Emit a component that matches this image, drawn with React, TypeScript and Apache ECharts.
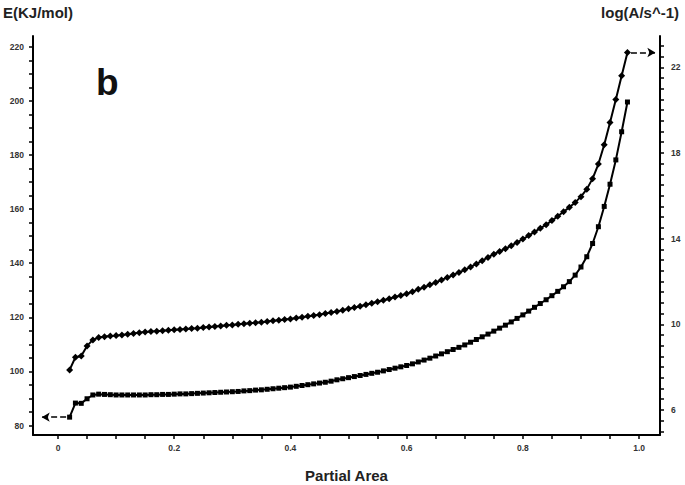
import React, { useEffect, useRef } from "react";
import * as echarts from "echarts";

// Partial area (x)
const partialArea = [
  0.02, 0.03, 0.04, 0.05, 0.06, 0.07, 0.08, 0.09, 0.10, 0.11,
  0.12, 0.13, 0.14, 0.15, 0.16, 0.17, 0.18, 0.19, 0.20, 0.21,
  0.22, 0.23, 0.24, 0.25, 0.26, 0.27, 0.28, 0.29, 0.30, 0.31,
  0.32, 0.33, 0.34, 0.35, 0.36, 0.37, 0.38, 0.39, 0.40, 0.41,
  0.42, 0.43, 0.44, 0.45, 0.46, 0.47, 0.48, 0.49, 0.50, 0.51,
  0.52, 0.53, 0.54, 0.55, 0.56, 0.57, 0.58, 0.59, 0.60, 0.61,
  0.62, 0.63, 0.64, 0.65, 0.66, 0.67, 0.68, 0.69, 0.70, 0.71,
  0.72, 0.73, 0.74, 0.75, 0.76, 0.77, 0.78, 0.79, 0.80, 0.81,
  0.82, 0.83, 0.84, 0.85, 0.86, 0.87, 0.88, 0.89, 0.90, 0.91,
  0.92, 0.93, 0.94, 0.95, 0.96, 0.97, 0.98,
];

// Activation energy E (KJ/mol), left axis, square markers
const energy = [
  83.1, 88.3, 88.2, 89.9, 91.3, 91.6, 91.5, 91.4, 91.3, 91.3,
  91.3, 91.3, 91.3, 91.3, 91.4, 91.4, 91.5, 91.5, 91.6, 91.7,
  91.7, 91.8, 91.9, 92.0, 92.1, 92.2, 92.3, 92.4, 92.5, 92.6,
  92.8, 92.9, 93.1, 93.2, 93.4, 93.6, 93.8, 94.0, 94.2, 94.5,
  94.8, 95.1, 95.4, 95.7, 96.0, 96.4, 96.9, 97.3, 97.7, 98.1,
  98.5, 98.9, 99.3, 99.7, 100.2, 100.7, 101.2, 101.7, 102.2, 102.8,
  103.5, 104.2, 104.9, 105.7, 106.5, 107.3, 108.1, 108.9, 109.8, 110.8,
  111.8, 112.8, 113.8, 114.9, 116.0, 117.1, 118.3, 119.6, 120.9, 122.3,
  123.7, 125.1, 126.5, 128.0, 129.6, 131.3, 133.2, 135.6, 138.6, 142.4,
  147.3, 153.5, 161.0, 169.2, 178.2, 188.6, 199.6,
];

// log(A/s^-1), right axis, diamond markers
const logA = [
  7.87, 8.46, 8.52, 8.99, 9.27, 9.38, 9.42, 9.45, 9.47, 9.50,
  9.54, 9.57, 9.61, 9.64, 9.66, 9.68, 9.70, 9.72, 9.74, 9.76,
  9.78, 9.80, 9.82, 9.85, 9.87, 9.90, 9.92, 9.95, 9.97, 10.00,
  10.02, 10.05, 10.07, 10.10, 10.13, 10.16, 10.19, 10.22, 10.25, 10.29,
  10.33, 10.37, 10.41, 10.45, 10.50, 10.55, 10.60, 10.66, 10.72, 10.78,
  10.84, 10.91, 10.98, 11.05, 11.12, 11.19, 11.27, 11.34, 11.42, 11.52,
  11.63, 11.73, 11.84, 11.95, 12.07, 12.18, 12.30, 12.42, 12.54, 12.68,
  12.82, 12.97, 13.12, 13.27, 13.40, 13.53, 13.67, 13.82, 13.98, 14.14,
  14.31, 14.48, 14.65, 14.84, 15.04, 15.25, 15.46, 15.69, 15.96, 16.31,
  16.80, 17.48, 18.38, 19.42, 20.50, 21.60, 22.69,
];

// Axis ticks and labels
const xTicks = [
  0, 0.05, 0.1, 0.15, 0.2, 0.25, 0.3, 0.35, 0.4, 0.45, 0.5,
  0.55, 0.6, 0.65, 0.7, 0.75, 0.8, 0.85, 0.9, 0.95, 1.0,
];
const xLabels = [0, 0.2, 0.4, 0.6, 0.8, 1.0];
const leftTicks = [
  80, 85, 90, 95, 100, 105, 110, 115, 120, 125, 130, 135, 140, 145, 150,
  155, 160, 165, 170, 175, 180, 185, 190, 195, 200, 205, 210, 215, 220,
];
const leftLabels = [80, 100, 120, 140, 160, 180, 200, 220];
const rightTicks = [
  5, 5.5, 6, 6.5, 7, 7.5, 8, 8.5, 9, 9.5, 10, 10.5, 11, 11.5, 12, 12.5,
  13, 13.5, 14, 14.5, 15, 15.5, 16, 16.5, 17, 17.5, 18, 18.5, 19, 19.5,
  20, 20.5, 21, 21.5, 22, 22.5, 23,
];
const rightLabels = [6, 10, 14, 18, 22];

// Axis extents
const X_MIN = -0.043;
const X_MAX = 1.036;
const LEFT_MIN = 76.5;
const LEFT_MAX = 224;
const RIGHT_MIN = 4.83;
const RIGHT_MAX = 23.46;

// dashed arrows pointing at each curve's axis
const LEFT_ARROW_TIP = -0.028;
const RIGHT_ARROW_TIP = 1.028;

const FONT = "'Liberation Sans', Arial, sans-serif";

export default function App() {
  const ref = useRef<HTMLDivElement>(null);

  useEffect(() => {
    if (!ref.current) return;
    const chart = echarts.init(ref.current, undefined, { renderer: "svg" });

    const ePts = partialArea.map((x, i) => [x, energy[i]]);
    const aPts = partialArea.map((x, i) => [x, logA[i]]);
    const firstX = partialArea[0];
    const lastX = partialArea[partialArea.length - 1];

    const tickLabel = {
      fontSize: 8.5,
      fontWeight: "bold" as const,
      color: "#333",
      fontFamily: FONT,
    };
    const axisLine = { show: true, onZero: false, lineStyle: { color: "#000", width: 2 } };
    const axisTickBase = { show: true, length: 4, lineStyle: { color: "#000", width: 1.5 } };

    const dashed = {
      silent: true,
      symbol: ["none", "arrow"],
      symbolSize: [7, 8],
      label: { show: false },
      emphasis: { disabled: true },
      lineStyle: { color: "#000", type: "dashed", width: 1.5 },
    };

    chart.setOption({
      animation: false,
      backgroundColor: "#fff",
      grid: {
        left: 33,
        right: 25,
        top: 36,
        bottom: 50,
        containLabel: false,
        outerBoundsMode: "none",
      },
      xAxis: {
        type: "value",
        min: X_MIN,
        max: X_MAX,
        axisLine,
        axisTick: { ...axisTickBase, customValues: xTicks },
        axisLabel: {
          ...tickLabel,
          margin: 8,
          customValues: xLabels,
          formatter: (v: number) => (v === 0 ? "0" : v.toFixed(1)),
        },
        splitLine: { show: false },
        name: "Partial Area",
        nameLocation: "middle",
        nameGap: 33,
        nameTextStyle: { fontSize: 15, fontWeight: "bold", color: "#222", fontFamily: FONT },
      },
      yAxis: [
        {
          type: "value",
          position: "left",
          min: LEFT_MIN,
          max: LEFT_MAX,
          axisLine,
          axisTick: { ...axisTickBase, customValues: leftTicks },
          axisLabel: { ...tickLabel, margin: 9, customValues: leftLabels },
          splitLine: { show: false },
        },
        {
          type: "value",
          position: "right",
          min: RIGHT_MIN,
          max: RIGHT_MAX,
          axisLine,
          axisTick: { ...axisTickBase, customValues: rightTicks },
          axisLabel: { ...tickLabel, margin: 11, customValues: rightLabels },
          splitLine: { show: false },
        },
      ],
      series: [
        {
          name: "E",
          type: "line",
          yAxisIndex: 0,
          data: ePts,
          symbol: "rect",
          symbolSize: 5,
          showAllSymbol: true,
          lineStyle: { color: "#000", width: 2 },
          itemStyle: { color: "#000" },
          markLine: {
            ...dashed,
            data: [
              [
                { coord: [firstX - 0.006, energy[0]] },
                { coord: [LEFT_ARROW_TIP, energy[0]] },
              ],
            ],
          },
        },
        {
          name: "logA",
          type: "line",
          yAxisIndex: 1,
          data: aPts,
          symbol: "diamond",
          symbolSize: 7,
          showAllSymbol: true,
          lineStyle: { color: "#000", width: 2 },
          itemStyle: { color: "#000" },
          markLine: {
            ...dashed,
            data: [
              [
                { coord: [lastX + 0.006, logA[logA.length - 1]] },
                { coord: [RIGHT_ARROW_TIP, logA[logA.length - 1]] },
              ],
            ],
          },
        },
      ],
      graphic: [
        {
          type: "text",
          left: 3,
          top: 5,
          style: {
            text: "E(KJ/mol)",
            fontSize: 15,
            fontWeight: "bold",
            fill: "#222",
            fontFamily: FONT,
          },
        },
        {
          type: "text",
          right: 6,
          top: 5,
          style: {
            text: "log(A/s^-1)",
            fontSize: 15,
            fontWeight: "bold",
            fill: "#222",
            fontFamily: FONT,
          },
        },
        {
          type: "text",
          left: 96,
          top: 64,
          style: {
            text: "b",
            fontSize: 37,
            fontWeight: "bold",
            fill: "#111",
            fontFamily: FONT,
          },
        },
      ],
    });

    return () => chart.dispose();
  }, []);

  return (
    <div
      ref={ref}
      style={{ position: "fixed", left: 0, top: 0, width: 685, height: 485, background: "#fff" }}
    />
  );
}
